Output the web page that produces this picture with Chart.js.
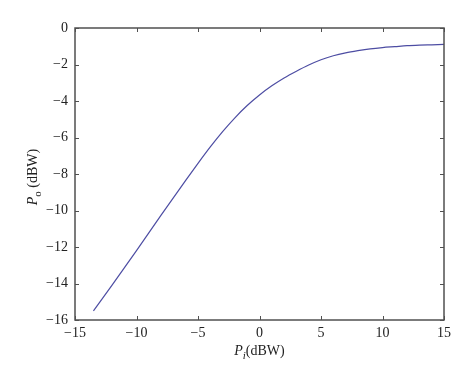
<!DOCTYPE html>
<html>
<head>
<meta charset="utf-8">
<script src="https://cdn.jsdelivr.net/npm/chart.js@4/dist/chart.umd.min.js"></script>
<style>
html,body{margin:0;padding:0;background:#fff;}
#wrap{width:474px;height:384px;position:relative;}
</style>
</head>
<body>
<div id="wrap"><canvas id="c" width="474" height="384"></canvas></div>
<script>
// Data
const inputPower = [-13.5, -12, -10, -8, -6, -5, -4, -3, -2, -1, 0, 1, 2, 3, 4, 5, 6, 7, 8, 9, 10, 11, 12, 13, 14, 15];
const outputPower = [-15.5, -14.1, -12.2, -10.25, -8.35, -7.42, -6.52, -5.68, -4.92, -4.25, -3.67, -3.17, -2.74, -2.37, -2.03, -1.74, -1.52, -1.36, -1.24, -1.14, -1.07, -1.02, -0.97, -0.94, -0.92, -0.90];
const xTicks = [-15, -10, -5, 0, 5, 10, 15];
const yTicks = [-16, -14, -12, -10, -8, -6, -4, -2, 0];
const xTitle = [{t:'P', italic:true}, {t:'i', italic:true, sub:true}, {t:'(dBW)'}];
const yTitle = [{t:'P', italic:true}, {t:'o', sub:true}, {t:' (dBW)'}];

const FONT = '"Liberation Serif", "Times New Roman", serif';
const AXIS_COLOR = '#505050';
const TEXT_COLOR = '#222222';

function fmt(v){ return v < 0 ? '\u2212' + Math.abs(v) : String(v); }

function drawRich(ctx, parts, size){
  let w = 0;
  const fonts = parts.map(p => (p.italic ? 'italic ' : '') + (p.sub ? Math.round(size*0.75) : size) + 'px ' + FONT);
  parts.forEach((p,i) => { ctx.font = fonts[i]; w += ctx.measureText(p.t).width; });
  let x = -w/2;
  parts.forEach((p,i) => {
    ctx.font = fonts[i];
    ctx.fillText(p.t, x, p.sub ? size*0.28 : 0);
    x += ctx.measureText(p.t).width;
  });
}

const framePlugin = {
  id: 'frame',
  afterDraw(chart){
    const {ctx, chartArea: a, scales} = chart;
    ctx.save();
    ctx.strokeStyle = AXIS_COLOR;
    ctx.lineWidth = 1.5;
    ctx.strokeRect(a.left, a.top, a.right - a.left, a.bottom - a.top);
    ctx.lineWidth = 1;
    const tl = 4;
    ctx.beginPath();
    xTicks.forEach(v => {
      const px = Math.round(scales.x.getPixelForValue(v)) + 0.5;
      ctx.moveTo(px, a.bottom); ctx.lineTo(px, a.bottom - tl);
      ctx.moveTo(px, a.top); ctx.lineTo(px, a.top + tl);
    });
    yTicks.forEach(v => {
      const py = Math.round(scales.y.getPixelForValue(v)) + 0.5;
      ctx.moveTo(a.left, py); ctx.lineTo(a.left + tl, py);
      ctx.moveTo(a.right, py); ctx.lineTo(a.right - tl, py);
    });
    ctx.stroke();
    ctx.fillStyle = TEXT_COLOR;
    ctx.textBaseline = 'alphabetic';
    ctx.textAlign = 'left';
    ctx.save();
    ctx.translate((a.left + a.right)/2, 355);
    drawRich(ctx, xTitle, 14);
    ctx.restore();
    ctx.save();
    ctx.translate(37, (a.top + a.bottom)/2 + 3);
    ctx.rotate(-Math.PI/2);
    drawRich(ctx, yTitle, 14);
    ctx.restore();
    ctx.restore();
  }
};

new Chart(document.getElementById('c'), {
  type: 'line',
  data: {
    datasets: [{
      data: inputPower.map((x, i) => ({x, y: outputPower[i]})),
      borderColor: '#4d4da3',
      borderWidth: 1.2,
      pointRadius: 0,
      cubicInterpolationMode: 'monotone',
      fill: false
    }]
  },
  options: {
    responsive: false,
    animation: false,
    events: [],
    layout: { padding: { top: 28, right: 30, left: 0, bottom: 0 } },
    plugins: { legend: { display: false }, tooltip: { enabled: false } },
    scales: {
      x: {
        type: 'linear', min: -15, max: 15,
        afterBuildTicks: s => { s.ticks = xTicks.map(v => ({value: v})); },
        afterFit: s => { s.height = 64; },
        grid: { display: false, drawTicks: false },
        border: { display: false },
        ticks: { padding: 5, color: TEXT_COLOR, font: { family: FONT, size: 14 }, callback: fmt, maxRotation: 0, autoSkip: false }
      },
      y: {
        type: 'linear', min: -16, max: 0,
        afterBuildTicks: s => { s.ticks = yTicks.map(v => ({value: v})); },
        afterFit: s => { s.width = 75; },
        grid: { display: false, drawTicks: false },
        border: { display: false },
        ticks: { padding: 7, color: TEXT_COLOR, font: { family: FONT, size: 14 }, callback: fmt, autoSkip: false }
      }
    }
  },
  plugins: [framePlugin]
});
</script>
</body>
</html>
